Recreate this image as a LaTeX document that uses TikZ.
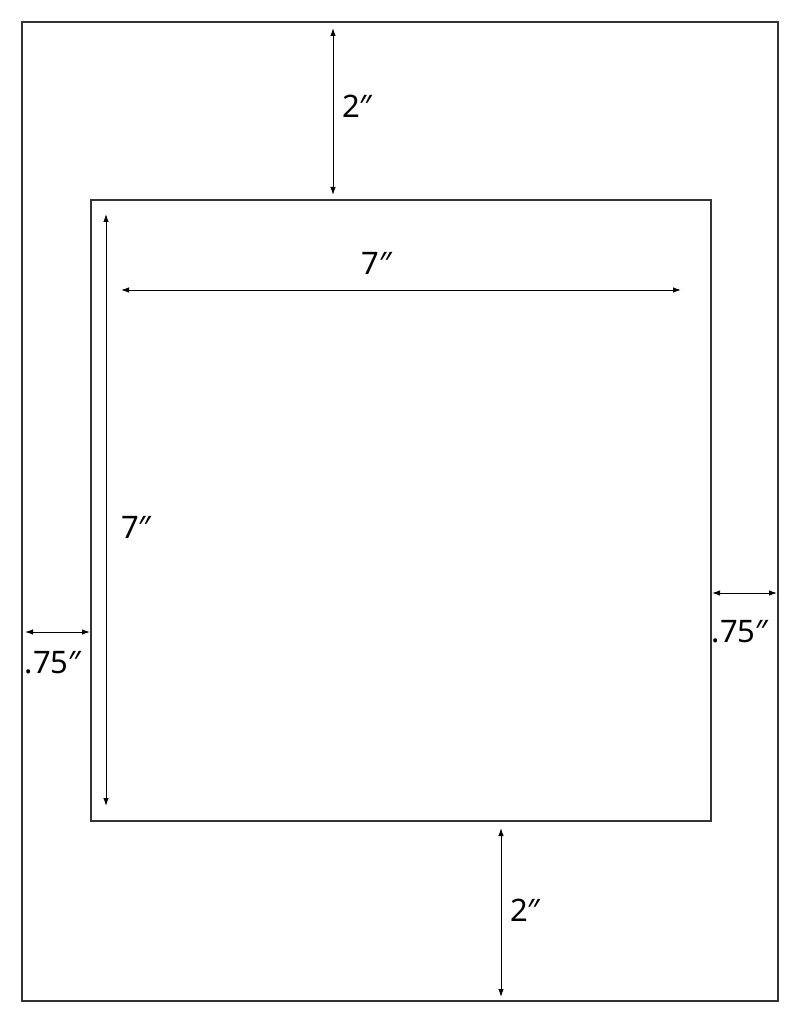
\documentclass[tikz,border=0pt]{standalone}
\usepackage{fontspec}
\setmainfont{Noto Sans}
\usetikzlibrary{arrows.meta}
\begin{document}
\begin{tikzpicture}[x=1pt,y=-1pt,
  frame/.style={draw=black!80,line width=1.4pt},
  dim/.style={draw=black,line width=1pt,{Latex[length=8pt,width=5.5pt]}-{Latex[length=8pt,width=5.5pt]}},
  lbl/.style={font=\fontsize{31}{31}\selectfont,inner sep=0pt}]
\useasboundingbox (0,0) rectangle (801,1024);
\fill[white] (0,0) rectangle (801,1024);
\draw[frame] (22,22) rectangle (778,1001);
\draw[frame] (91,200) rectangle (711,821);
% top 2"
\coordinate (t1) at (333,28); \coordinate (t2) at (333,195);
\draw[dim] (t1) -- (t2);
\node[lbl,anchor=west] (tl) at (342,106) {2″};
% bottom 2"
\coordinate (b1) at (501,828); \coordinate (b2) at (501,997);
\draw[dim] (b1) -- (b2);
\node[lbl,anchor=west] (bl) at (510,910) {2″};
% vertical 7"
\coordinate (v1) at (106,214); \coordinate (v2) at (106,806);
\draw[dim] (v1) -- (v2);
\node[lbl,anchor=west] (vl) at (121,527) {7″};
% horizontal 7"
\coordinate (h1) at (121,290); \coordinate (h2) at (681,290);
\draw[dim] (h1) -- (h2);
\node[lbl] (hl) at (377,263) {7″};
% left .75"
\coordinate (l1) at (25,632); \coordinate (l2) at (90,632);
\draw[dim] (l1) -- (l2);
\node[lbl] (ll) at (53,663) {.75″};
% right .75"
\coordinate (r1) at (712,593); \coordinate (r2) at (777,593);
\draw[dim] (r1) -- (r2);
\node[lbl] (rl) at (740,632) {.75″};
\end{tikzpicture}
\end{document}
